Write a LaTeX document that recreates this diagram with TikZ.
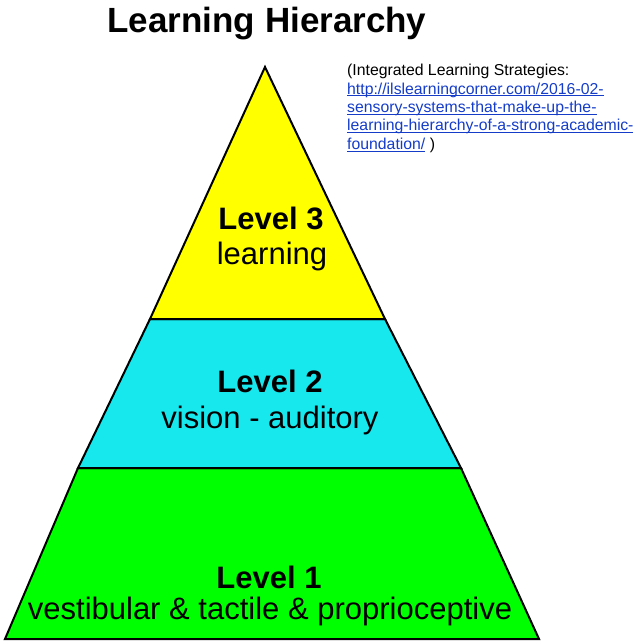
\documentclass[tikz,border=0pt]{standalone}
\usepackage{fontspec}
\setmainfont{Liberation Sans}
\usepackage{xcolor}
\usepackage{tikz}
\definecolor{lvlyellow}{RGB}{255,255,0}
\definecolor{lvlcyan}{RGB}{22,232,238}
\definecolor{lvlgreen}{RGB}{0,255,0}
\definecolor{linkblue}{RGB}{20,60,200}
\newcommand{\sz}[1]{\fontsize{#1}{1.2\dimexpr#1pt\relax}\selectfont}
\newcommand{\band}[5]{  % 4 corners, 1 color
        \filldraw[fill=#5, draw=black, line width=2pt] (#1) -- (#2) -- (#3) -- (#4) -- cycle;
}
\newcommand{\lnk}[1]{% underlined link line
        \setbox0\hbox{#1}\rlap{\rule[-2.2pt]{\wd0}{0.9pt}}\box0}

\begin{document}
\begin{tikzpicture}[x=1pt, y=-1pt,
        head/.style={anchor=base, inner sep=0pt, font=\bfseries\sz{31}},
        sub/.style={anchor=base, inner sep=0pt, font=\sz{31}}]
        \useasboundingbox (0,0) rectangle (636,642);
        % pyramid, bottom up
        \band{78,468}{461,468}{539,639}{5,639}{lvlgreen}
        \band{150,319}{385,319}{461,468}{78,468}{lvlcyan}
        \filldraw[fill=lvlyellow, line width=2pt] (265,67) -- (385,319) -- (150,319) -- cycle;
        % title and source
        \node[anchor=base, inner sep=0pt, font=\bfseries\sz{35}] (title) at (267,33) {Learning Hierarchy};
        \node[anchor=north west, inner sep=0pt, align=left, font=\fontsize{15.8}{18.4}\selectfont] (cite) at (347,64)
            {(Integrated Learning Strategies:\\
             \textcolor{linkblue}{\lnk{http://ilslearningcorner.com/2016-02-}}\\
             \textcolor{linkblue}{\lnk{sensory-systems-that-make-up-the-}}\\
             \textcolor{linkblue}{\lnk{learning-hierarchy-of-a-strong-academic-}}\\
             \textcolor{linkblue}{\lnk{foundation/}} )};
        % level labels
        \node[head] (lvl3) at (271,229) {Level 3};
        \node[sub] (lvl3txt) at (272,264) {learning};
        \node[head] (lvl2) at (270,392) {Level 2};
        \node[sub] (lvl2txt) at (270,428) {vision - auditory};
        \node[head] (lvl1) at (269,588) {Level 1};
        \node[sub] (lvl1txt) at (270,619) {vestibular \& tactile \& proprioceptive};
\end{tikzpicture}
\end{document}
